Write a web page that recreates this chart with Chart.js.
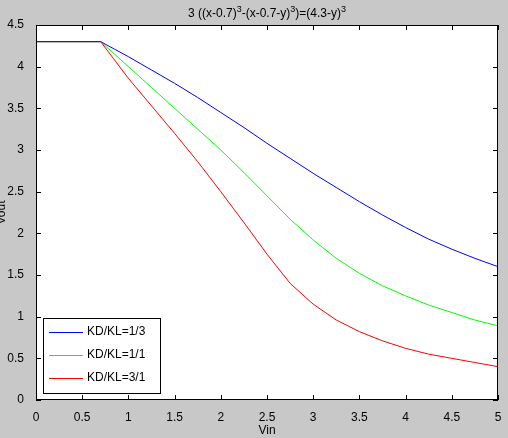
<!DOCTYPE html>
<html><head>
<script src="https://cdn.jsdelivr.net/npm/chart.js@4"></script>
<style>
html,body{margin:0;padding:0;background:#c8c8c8;}
#wrap{width:508px;height:438px;}
</style></head>
<body><div id="wrap"><canvas id="c"></canvas></div>
<script>
const vin    = [0,   0.7, 0.85, 1,    1.25, 1.5,  1.75, 2,    2.25, 2.5,  2.75, 3,    3.25, 3.5,  3.75, 4,    4.25, 4.5,  4.75, 5];
const vout13 = [4.3, 4.3, 4.21, 4.12, 3.96, 3.8,  3.63, 3.45, 3.27, 3.08, 2.9,  2.72, 2.55, 2.38, 2.22, 2.07, 1.93, 1.81, 1.7,  1.6];
const vout11 = [4.3, 4.3, 4.15, 4.0,  3.75, 3.5,  3.25, 3.0,  2.73, 2.45, 2.17, 1.92, 1.7,  1.52, 1.37, 1.25, 1.14, 1.05, 0.96, 0.89];
const vout31 = [4.3, 4.3, 4.08, 3.86, 3.53, 3.2,  2.86, 2.5,  2.13, 1.75, 1.4,  1.15, 0.96, 0.82, 0.71, 0.62, 0.55, 0.5,  0.45, 0.4];
const labels = ["KD/KL=1/3", "KD/KL=1/1", "KD/KL=3/1"];
const colors = ["#0000ff", "#00ff00", "#ff0000"];
const xTicks = [0, 0.5, 1, 1.5, 2, 2.5, 3, 3.5, 4, 4.5, 5];
const yTicks = [0, 0.5, 1, 1.5, 2, 2.5, 3, 3.5, 4, 4.5];

const FONT = '"Liberation Sans", Arial, sans-serif';
const series = [vout13, vout11, vout31];

// text pieces of the title: [text, superscript?]
const titleParts = [["3 ((x-0.7)", 0], ["3", 1], ["-(x-0.7-y)", 0], ["3", 1], [")=(4.3-y)", 0], ["3", 1]];

const matlabStyle = {
    id: 'matlabStyle',
    beforeDraw(chart) {
        const ctx = chart.ctx, a = chart.chartArea;
        ctx.save();
        ctx.fillStyle = '#fff';
        ctx.fillRect(a.left, a.top, a.right - a.left, a.bottom - a.top);
        ctx.restore();
    },
    afterDraw(chart) {
        const ctx = chart.ctx, a = chart.chartArea;
        const xs = chart.scales.x, ys = chart.scales.y;
        ctx.save();
        ctx.strokeStyle = '#000';
        ctx.lineWidth = 1;
        ctx.strokeRect(a.left + 0.5, a.top + 0.5, a.right - a.left - 1, a.bottom - a.top - 1);
        ctx.beginPath();
        xTicks.forEach(v => {
            const p = Math.round(xs.getPixelForValue(v)) + 0.5;
            ctx.moveTo(p, a.bottom); ctx.lineTo(p, a.bottom - 5);
            ctx.moveTo(p, a.top); ctx.lineTo(p, a.top + 5);
        });
        yTicks.forEach(v => {
            const p = Math.round(ys.getPixelForValue(v)) + 0.5;
            ctx.moveTo(a.left, p); ctx.lineTo(a.left + 5, p);
            ctx.moveTo(a.right, p); ctx.lineTo(a.right - 5, p);
        });
        ctx.stroke();
        // title with superscripts
        ctx.fillStyle = '#000';
        ctx.textBaseline = 'alphabetic';
        ctx.textAlign = 'left';
        const big = '12px ' + FONT, small = '9px ' + FONT;
        let w = 0;
        titleParts.forEach(([t, s]) => { ctx.font = s ? small : big; w += ctx.measureText(t).width; });
        let tx = (a.left + a.right) / 2 - w / 2;
        titleParts.forEach(([t, s]) => {
            ctx.font = s ? small : big;
            ctx.fillText(t, tx, s ? 12 : 17);
            tx += ctx.measureText(t).width;
        });
        ctx.font = big;
        ctx.textAlign = 'center';
        ctx.fillText('Vin', (a.left + a.right) / 2, 434);
        ctx.save();
        ctx.translate(5, (a.top + a.bottom) / 2);
        ctx.rotate(-Math.PI / 2);
        ctx.fillText('Vout', 0, 0);
        ctx.restore();
        // legend
        const lx = 43, ly = 318, lw = 117, lh = 75;
        ctx.fillStyle = '#fff';
        ctx.fillRect(lx, ly, lw, lh);
        ctx.strokeRect(lx + 0.5, ly + 0.5, lw, lh);
        ctx.textAlign = 'left';
        ctx.textBaseline = 'middle';
        chart.data.datasets.forEach((d, i) => {
            const yy = ly + 14 + i * 23;
            ctx.fillStyle = d.borderColor;
            ctx.fillRect(lx + 6, yy, 34, 1);
            ctx.fillStyle = '#000';
            ctx.fillText(d.label, lx + 44, yy);
        });
        ctx.restore();
    }
};

new Chart(document.getElementById('c'), {
    type: 'line',
    data: {
        datasets: series.map((s, i) => ({
            label: labels[i],
            data: vin.map((x, j) => ({ x: x, y: s[j] })),
            borderColor: colors[i],
            borderWidth: 1,
            pointRadius: 0,
            tension: 0,
            fill: false
        }))
    },
    plugins: [matlabStyle],
    options: {
        responsive: true,
        maintainAspectRatio: false,
        animation: false,
        layout: { padding: { top: 25, right: 10, left: 0, bottom: 0 } },
        plugins: { legend: { display: false }, tooltip: { enabled: false } },
        scales: {
            x: {
                type: 'linear', min: 0, max: 5,
                afterBuildTicks: s => { s.ticks = xTicks.map(v => ({ value: v })); },
                afterFit: s => { s.height = 38; },
                grid: { display: false },
                border: { display: false },
                ticks: { color: '#000', font: { family: FONT, size: 12 }, padding: 2, maxRotation: 0, callback: v => String(v) }
            },
            y: {
                min: 0, max: 4.5,
                afterBuildTicks: s => { s.ticks = yTicks.map(v => ({ value: v })); },
                afterFit: s => { s.width = 36; },
                grid: { display: false },
                border: { display: false },
                ticks: { color: '#000', font: { family: FONT, size: 12 }, padding: 4, callback: v => String(v) }
            }
        }
    }
});
</script></body></html>
